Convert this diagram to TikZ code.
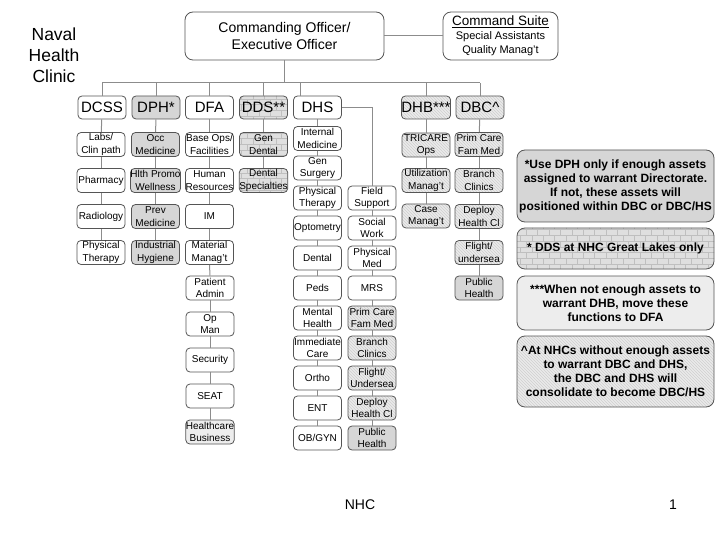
\documentclass[tikz,border=0pt]{standalone}
\usepackage{fontspec}
\setmainfont{Liberation Sans}
\usetikzlibrary{patterns}
\definecolor{edgec}{HTML}{555555}
\definecolor{linec}{HTML}{8C8C8C}
\begin{document}
\begin{tikzpicture}[x=1pt,y=-1pt,
  every node/.style={inner sep=0pt, align=center},
  base/.style={draw=edgec, line width=0.8pt, rounded corners=4pt},
  topbox/.style={base, minimum width=48pt, minimum height=23pt, font=\fontsize{15}{17}\selectfont},
  subbox/.style={base, minimum width=48pt, minimum height=24pt, font=\fontsize{10}{12.5}\selectfont},
  gfill/.style={fill=gray!32},
  lfill/.style={fill=gray!14},
  brick/.style={preaction={fill=gray!25}, pattern=bricks, pattern color=gray!50},
  hatch/.style={preaction={fill=gray!16}, pattern=north west lines, pattern color=gray!38},
  conn/.style={draw=linec, line width=1pt},
  notebox/.style={base, rounded corners=8pt, minimum width=197pt, font=\fontsize{12}{14}\selectfont\bfseries},
]
\useasboundingbox (0,0) rectangle (720,540);

% title
\node[font=\fontsize{17.5}{21}\selectfont] (title) at (54,55) {Naval\\Health\\Clinic};

% command
\node[base, rounded corners=8pt, minimum width=199pt, minimum height=48pt, font=\fontsize{14}{17}\selectfont] (co) at (284.5,36) {Commanding Officer/\\Executive Officer};
\node[base, rounded corners=8pt, minimum width=115pt, minimum height=48pt, font=\fontsize{11}{14}\selectfont] (cs) at (500.5,36) {{\fontsize{13.5}{15}\selectfont\underline{Command Suite}}\\Special Assistants\\Quality Manag't};

% directorates
\node[topbox] (dcss) at (102,107.5) {DCSS};
\node[topbox,gfill] (dph) at (156,107.5) {DPH*};
\node[topbox] (dfa) at (209.5,107.5) {DFA};
\node[topbox,brick] (dds) at (263.5,107.5) {DDS**};
\node[topbox] (dhs) at (317.5,107.5) {DHS};
\node[topbox,hatch] (dhb) at (426,107.5) {DHB***};
\node[topbox,hatch] (dbc) at (480,107.5) {DBC\textasciicircum};

% DCSS
\node[subbox] (a1) at (101,144.5) {Labs/\\Clin path};
\node[subbox] (a2) at (101,180.5) {Pharmacy};
\node[subbox] (a3) at (101,216.5) {Radiology};
\node[subbox] (a4) at (101,252.5) {Physical\\Therapy};
% DPH
\node[subbox,gfill] (b1) at (155.5,144.5) {Occ\\Medicine};
\node[subbox,gfill] (b2) at (155.5,180.5) {Hlth Promo\\Wellness};
\node[subbox,gfill] (b3) at (155.5,216.5) {Prev\\Medicine};
\node[subbox,gfill] (b4) at (155.5,252.5) {Industrial\\Hygiene};
% DFA
\node[subbox] (c1) at (209.5,144.5) {Base Ops/\\Facilities};
\node[subbox] (c2) at (209.5,180.5) {Human\\Resources};
\node[subbox] (c3) at (209.5,216.5) {IM};
\node[subbox] (c4) at (209.5,252.5) {Material\\Manag't};
\node[subbox] (c5) at (210,288) {Patient\\Admin};
\node[subbox] (c6) at (210,324) {Op\\Man};
\node[subbox] (c7) at (210,360) {Security};
\node[subbox] (c8) at (210,396) {SEAT};
\node[subbox,lfill] (c9) at (210,432) {Healthcare\\Business};
% DDS
\node[subbox,brick] (d1) at (263.5,144.5) {Gen\\Dental};
\node[subbox,brick] (d2) at (263.5,180.5) {Dental\\Specialties};
% DHS left
\node[subbox] (e1) at (317.5,138.5) {Internal\\Medicine};
\node[subbox] (e2) at (317.5,168) {Gen\\Surgery};
\node[subbox] (e3) at (317.5,198) {Physical\\Therapy};
\node[subbox] (e4) at (317.5,228) {Optometry};
\node[subbox] (e5) at (317.5,258) {Dental};
\node[subbox] (e6) at (317.5,288) {Peds};
\node[subbox] (e7) at (317.5,318) {Mental\\Health};
\node[subbox] (e8) at (317.5,348) {Immediate\\Care};
\node[subbox] (e9) at (317.5,378) {Ortho};
\node[subbox] (e10) at (317.5,408) {ENT};
\node[subbox] (e11) at (317.5,438) {OB/GYN};
% DHS right
\node[subbox] (f1) at (372,198) {Field\\Support};
\node[subbox] (f2) at (372,228) {Social\\Work};
\node[subbox] (f3) at (372,258) {Physical\\Med};
\node[subbox] (f4) at (372,288) {MRS};
\node[subbox,hatch] (f5) at (372,318) {Prim Care\\Fam Med};
\node[subbox,hatch] (f6) at (372,348) {Branch\\Clinics};
\node[subbox,hatch] (f7) at (372,378) {Flight/\\Undersea};
\node[subbox,hatch] (f8) at (372,408) {Deploy\\Health Cl};
\node[subbox,gfill] (f9) at (372,438) {Public\\Health};
% DHB
\node[subbox,hatch] (g1) at (426,145) {TRICARE\\Ops};
\node[subbox,hatch] (g2) at (426,180.5) {Utilization\\Manag't};
\node[subbox,hatch] (g3) at (426,216) {Case\\Manag't};
% DBC
\node[subbox,hatch] (h1) at (479,144.5) {Prim Care\\Fam Med};
\node[subbox,hatch] (h2) at (479,180.5) {Branch\\Clinics};
\node[subbox,hatch] (h3) at (479,216.5) {Deploy\\Health Cl};
\node[subbox,hatch] (h4) at (479,252.5) {Flight/\\undersea};
\node[subbox,gfill] (h5) at (479,288) {Public\\Health};

% notes
\node[notebox,gfill,minimum height=72pt] (n1) at (615.5,186) {*Use DPH only if enough assets\\assigned to warrant Directorate.\\If not, these assets will\\positioned within DBC or DBC/HS};
\node[notebox,brick,minimum height=41pt] (n2) at (615.5,248.5) {* DDS at NHC Great Lakes only};
\node[notebox,lfill,minimum height=54pt] (n3) at (615.5,303) {***When not enough assets to\\warrant DHB, move these\\functions to DFA};
\node[notebox,hatch,minimum height=71pt] (n4) at (615.5,371.5) {\textasciicircum At NHCs without enough assets\\to warrant DBC and DHS,\\the DBC and DHS will\\consolidate to become DBC/HS};

% footer
\node[font=\fontsize{14}{16}\selectfont] (nhc) at (360,505) {NHC};
\node[font=\fontsize{14}{16}\selectfont] (pg) at (673,505) {1};

% connectors
\coordinate (busL) at (102,83);
\coordinate (busR) at (480,83);
\coordinate (dhsin) at (300,83);
\draw[conn] (busL) -- (busR);
\draw[conn] (co.south) -- (co.south |- busL);
\draw[conn] (co.east) -- (cs.west);
\foreach \t in {dcss,dph,dfa,dds,dhb,dbc}{\draw[conn] (\t.north) -- (\t.north |- busL);}
\draw[conn] (dhsin) -- (dhsin |- dhs.north);
\draw[conn] (dhs.east) -| (f1.north);
\foreach \u/\v in {dcss/a1,a1/a2,a2/a3,a3/a4,
  dph/b1,b1/b2,b2/b3,b3/b4,
  dfa/c1,c1/c2,c2/c3,c3/c4,c4/c5,c5/c6,c6/c7,c7/c8,c8/c9,
  dds/d1,d1/d2,
  dhs/e1,e1/e2,e2/e3,e3/e4,e4/e5,e5/e6,e6/e7,e7/e8,e8/e9,e9/e10,e10/e11,
  f1/f2,f2/f3,f3/f4,f4/f5,f5/f6,f6/f7,f7/f8,f8/f9,
  dhb/g1,g1/g2,g2/g3,
  dbc/h1,h1/h2,h2/h3,h3/h4,h4/h5}{\draw[conn] (\u) -- (\v);}
\end{tikzpicture}
\end{document}
